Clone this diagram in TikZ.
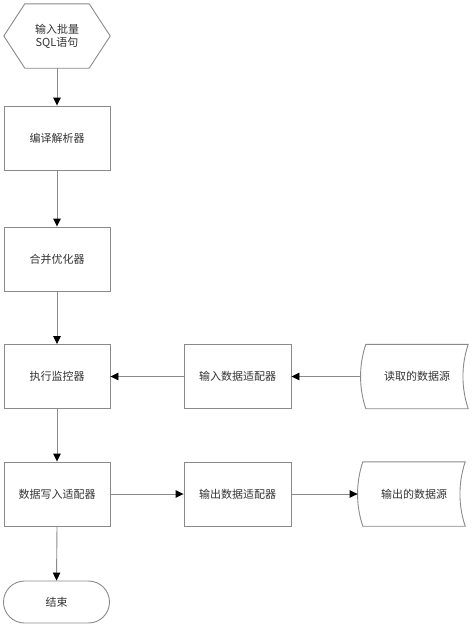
\documentclass[tikz,border=0pt]{standalone}
\usepackage{fontspec}
\setmainfont{Noto Sans CJK SC}
\usetikzlibrary{arrows.meta}
\definecolor{linegray}{HTML}{8A8A8A}
\definecolor{txtgray}{HTML}{333333}
\tikzset{
  boxnode/.style={draw=linegray, line width=0.9pt, minimum width=106pt, minimum height=64pt, inner sep=0pt, text=txtgray, font=\fontsize{11pt}{13pt}\selectfont},
  plainnode/.style={minimum height=64pt, inner sep=0pt, text=txtgray, font=\fontsize{11pt}{13pt}\selectfont},
  conn/.style={draw=linegray, line width=0.9pt, -{Triangle[length=8pt,width=7.5pt,color=black]}},
  outline/.style={draw=linegray, line width=0.9pt}
}
\begin{document}
\begin{tikzpicture}[x=1pt,y=-1pt]
\useasboundingbox (0,0) rectangle (474,629);
% start hexagon
\node[plainnode, minimum width=106pt, align=center] (start) at (57,36) {输入批量\\SQL语句};
\draw[outline] (start.west) -- ([xshift=21pt]start.north west) -- ([xshift=-21pt]start.north east) -- (start.east) -- ([xshift=-21pt]start.south east) -- ([xshift=21pt]start.south west) -- cycle;
\node[boxnode] (b1) at (57,138) {编译解析器};
\node[boxnode] (b2) at (57,259) {合并优化器};
\node[boxnode] (b3) at (57,376.5) {执行监控器};
\node[boxnode, minimum width=107pt] (inad) at (237.5,376.5) {输入数据适配器};
\node[plainnode, minimum width=102pt] (src1) at (417,376.5) {读取的数据源};
\draw[outline] (src1.north west) .. controls +(-7,21) and +(-7,-21) .. (src1.south west) -- (src1.south east) .. controls +(-7,-21) and +(-7,21) .. (src1.north east) -- cycle;
\node[boxnode] (b4) at (57,494) {数据写入适配器};
\node[boxnode, minimum width=107pt] (outad) at (237.5,494) {输出数据适配器};
\node[plainnode, minimum width=102pt] (src2) at (414,494) {输出的数据源};
\draw[outline] (src2.north west) .. controls +(-7,21) and +(-7,-21) .. (src2.south west) -- (src2.south east) .. controls +(-7,-21) and +(-7,21) .. (src2.north east) -- cycle;
\node[boxnode, minimum height=42pt, rounded corners=21pt] (end) at (56.5,602) {结束};
% connectors
\draw[conn] (start.south) -- (b1.north);
\draw[conn] (b1.south) -- (b2.north);
\draw[conn] (b2.south) -- (b3.north);
\draw[conn] (b3.south) -- (b4.north);
\draw[conn] (b4.south) -- (end.north);
\draw[conn] ([xshift=-5.2pt]src1.west) -- (inad.east);
\draw[conn] (inad.west) -- (b3.east);
\draw[conn] (b4.east) -- (outad.west);
\draw[conn] (outad.east) -- ([xshift=-5.2pt]src2.west);
\end{tikzpicture}
\end{document}
